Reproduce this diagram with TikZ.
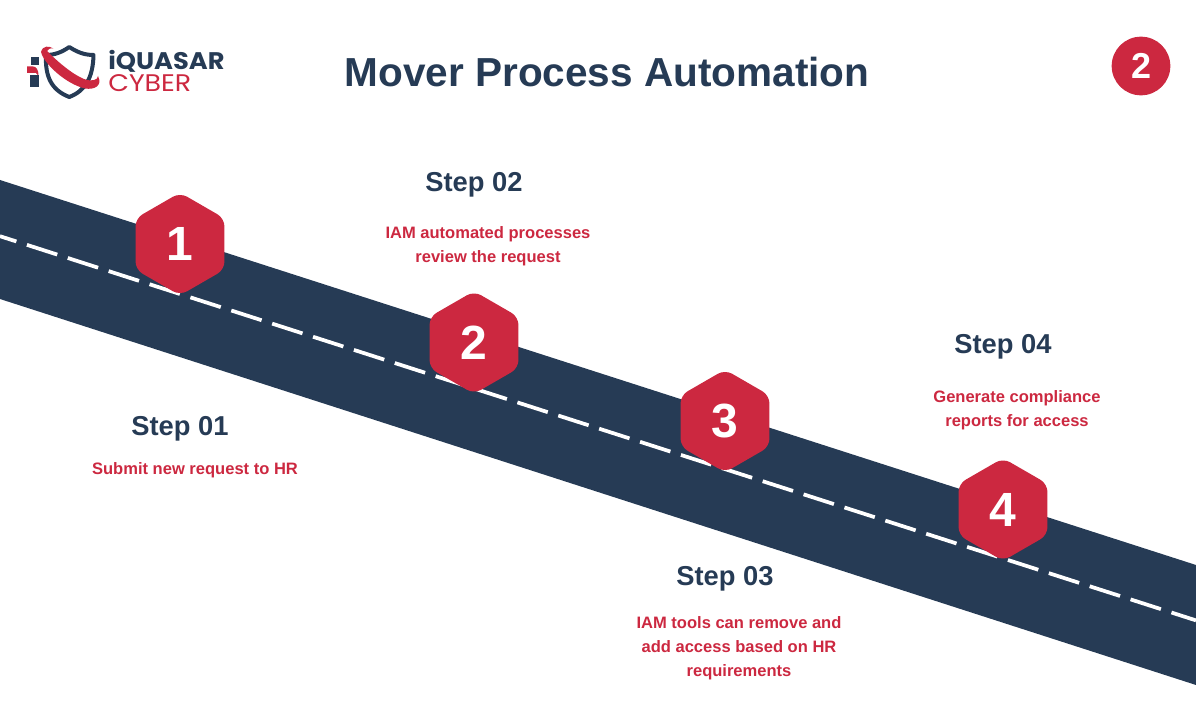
\documentclass[tikz,border=0pt]{standalone}
\usepackage{fontspec}
\usepackage{xcolor}
\usetikzlibrary{shapes.geometric}
\setmainfont{Liberation Sans}
\newfontfamily\logofont[FakeStretch=1.07]{Poppins}
\newfontfamily\logowide[FakeStretch=1.12]{Poppins}
\definecolor{roadblue}{HTML}{263B55}
\definecolor{stepred}{HTML}{CC2840}
\tikzset{
  hexbox/.style={draw=none, fill=stepred, regular polygon, regular polygon sides=6, shape border rotate=30, minimum size=77pt, inner sep=0pt, rounded corners=6pt, text=white, font=\bfseries\fontsize{36}{36}\selectfont},
  steptitle/.style={text=roadblue, font=\bfseries\fontsize{20.5}{24}\selectfont, inner sep=0pt},
  stepnote/.style={text=stepred, align=center, font=\bfseries\fontsize{12.4}{18}\selectfont, inner sep=0pt, anchor=north}
}
\begin{document}
\begin{tikzpicture}[x=0.75pt, y=-0.75pt]
  \useasboundingbox (0,0) rectangle (1196,720);
  % road
  \fill[roadblue] (0,180) -- (1196,565) -- (1196,685) -- (0,299) -- cycle;
  \coordinate (roadstart) at (0,236.2);
  \coordinate (roadend) at (1196,620.4);
  \draw[white, line width=2.8pt, dash pattern=on 23.9pt off 8.3pt, dash phase=11pt] (roadstart) -- (roadend);
  % hexagons
  \foreach \i\x\y in {1/180/244, 2/474/342.5, 3/725/421, 4/1003/509.5} {
    \node[hexbox] (H\i) at (\x,\y) {\i};
  }
  % steps
  \node[steptitle] (S1) at (180,428.5) {Step 01};
  \node[stepnote] (N1) at (195,462.5) {Submit new request to HR};
  \node[steptitle] (S2) at (474,185) {Step 02};
  \node[stepnote] (N2) at (488,226.5) {IAM automated processes\\review the request};
  \node[steptitle] (S3) at (725,579) {Step 03};
  \node[stepnote] (N3) at (739,616.5) {IAM tools can remove and\\add access based on HR\\requirements};
  \node[steptitle] (S4) at (1003,347) {Step 04};
  \node[stepnote] (N4) at (1017,390.5) {Generate compliance\\reports for access};
  % header
  \node[text=roadblue, font=\bfseries\fontsize{30.4}{36}\selectfont, inner sep=0pt] (title) at (607,72) {Mover Process Automation};
  \node[circle, fill=stepred, minimum size=44pt, inner sep=0pt, text=white, font=\bfseries\fontsize{27}{27}\selectfont] (badge) at (1141,66) {2};
  % logo
  \draw[roadblue, line width=3pt, line join=round] (69.3,47) .. controls (62,52) and (55,55) .. (46,55) .. controls (45,76) and (51,90) .. (69.3,97) .. controls (85,91) and (93,78) .. (93.5,55) .. controls (84,55) and (77,52) .. (69.3,47) -- cycle;
  \fill[stepred] (53.5,48.5) .. controls (49,46) and (43,45) .. (41,52) .. controls (44,64) and (66,84) .. (85,88.5) .. controls (94,90) and (103,86) .. (98,76) .. controls (98,80) and (92,82) .. (84,79) .. controls (72,74) and (58,62) .. (47,51) .. controls (48,49) and (50,48) .. (53.5,48.5) -- cycle;
  \fill[roadblue] (31,57.5) rectangle (38.5,65);
  \fill[stepred] (27,66.5) -- (33,66.5) .. controls (36,66.5) and (38.5,69) .. (38.5,76) -- (36,73) -- (27,73) -- cycle;
  \fill[roadblue] (30,75.5) rectangle (38.5,87);
  \node[anchor=base west, inner sep=0pt, text=roadblue, font=\logofont\bfseries\fontsize{18}{19}\selectfont] (iquasar) at (108,70) {iQUASAR};
  \node[anchor=base west, inner sep=0pt, text=stepred, font=\logowide\fontsize{18}{19}\selectfont] (cyber) at (108,92) {CYBER};
\end{tikzpicture}
\end{document}
